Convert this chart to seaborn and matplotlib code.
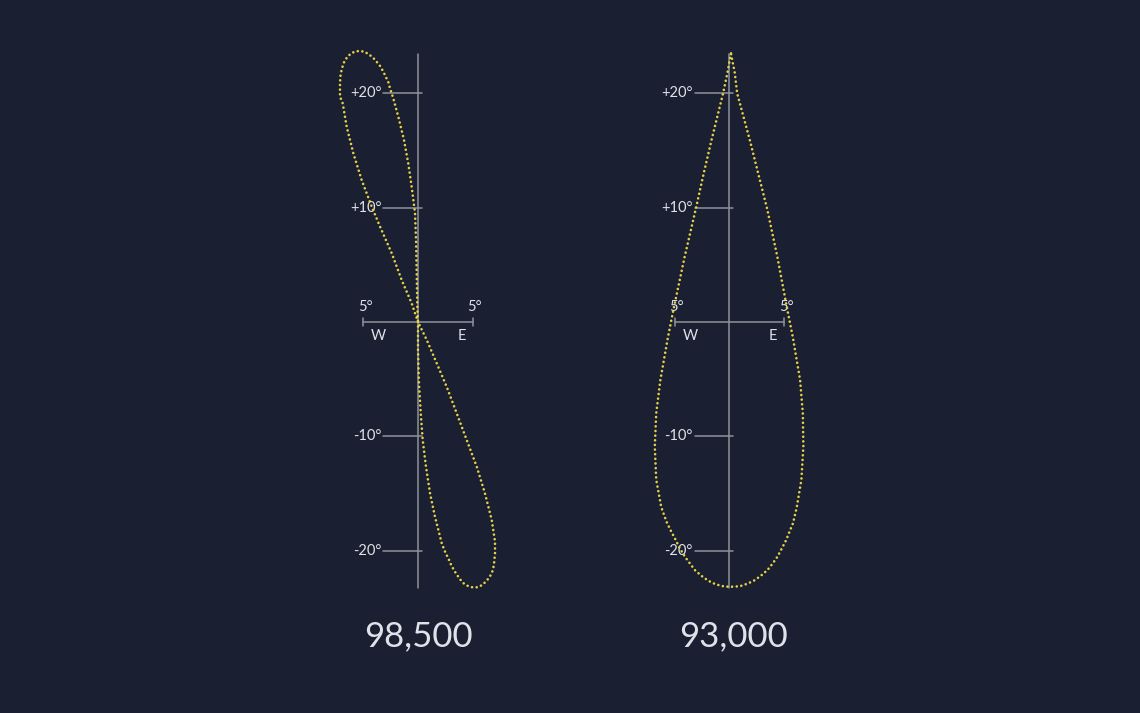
import matplotlib
matplotlib.use("Agg")
import matplotlib.pyplot as plt
import seaborn as sns
import pandas as pd

# analemma points, degrees (x: W-/E+, y: declination)
left_x = [0.0, -0.58, -1.49, -2.40, -3.47, -4.23, -5.15, -5.91, -6.52, -6.88, -7.13, -7.13,
          -7.10, -6.97, -6.76, -6.46, -6.06, -5.69, -5.30, -4.91, -4.54, -4.14, -3.78, -3.47,
          -3.17, -2.95, -2.71, -2.56, -2.26, -1.80, -1.28, -0.89, -0.58, -0.27, -0.18,
          -0.12, -0.06, 0.0,
          0.80, 1.71, 2.62, 3.54, 4.45, 5.37, 6.12, 6.74, 7.04, 7.04, 6.97, 6.88, 6.74, 6.52,
          6.28, 5.88, 5.42, 4.96, 4.51, 4.09, 3.78, 3.47, 3.23, 2.99, 2.77, 2.56, 2.38, 2.17,
          1.55, 1.10, 0.73, 0.43, 0.25, 0.09, 0.0, 0.0]
left_y = [0.0, 1.64, 3.67, 6.01, 8.34, 10.09, 12.42, 14.76, 17.09, 19.13, 19.71, 20.73,
          21.46, 22.13, 22.72, 23.21, 23.53, 23.68, 23.71, 23.65, 23.45, 23.16, 22.77, 22.40,
          21.90, 21.46, 20.97, 20.45, 19.57, 17.96, 15.92, 13.88, 11.84, 9.51, 7.17,
          4.26, 1.34, 0.0,
          -1.57, -3.61, -5.66, -7.99, -10.32, -12.66, -14.99, -17.32, -19.22, -20.24, -20.97,
          -21.55, -21.99, -22.34, -22.63, -23.01, -23.21, -23.21, -23.07, -22.81, -22.42,
          -21.99, -21.61, -21.17, -20.67, -20.29, -19.88, -19.36,
          -17.03, -14.99, -12.66, -10.32, -7.99, -5.36, -2.45, 0.0]

right_x = [0.15, -0.17, -0.57, -1.63, -2.34, -3.07, -4.08, -5.05, -5.60, -6.30, -6.68, -6.81,
           -6.68, -6.22, -5.74, -5.38, -4.98, -4.52, -4.06, -3.61, -3.15, -2.53, -1.93, -1.31,
           -0.70, -0.09, 0.52, 1.14, 1.74, 2.36, 2.97, 3.49, 3.98, 4.40, 4.81, 5.20, 5.50,
           5.82, 6.17, 6.59, 6.77, 6.72, 6.47, 5.80, 5.25, 4.39, 3.47, 2.64, 1.88, 0.72,
           0.50, 0.15]
right_y = [23.5, 21.8, 20.0, 15.9, 13.0, 9.86, 5.71, 1.34, -1.29, -5.07, -7.99, -10.9,
           -13.8, -16.2, -17.47, -18.20, -18.92, -19.80, -20.53, -21.11, -21.70, -22.22,
           -22.63, -22.92, -23.10, -23.16, -23.16, -23.07, -22.86, -22.57, -22.13, -21.70,
           -21.11, -20.53, -19.80, -19.07, -18.35, -17.61, -16.2,
           -13.8, -10.9, -7.99, -5.07, -1.29, 1.34, 5.71, 9.86, 13.0, 15.9, 20.0, 21.8, 23.5]

years = ["98,500", "93,000"]
dec_ticks = [20, 10, -10, -20]
dec_labels = ["+20°", "+10°", "-10°", "-20°"]

bg = "#1a2031"
axis_col = "#8e929c"
text_col = "#dfe2e8"
dot_col = "#e6d24a"

sns.set_style("dark")
plt.rcParams["font.family"] = ["Lato", "DejaVu Sans"]

W, H = 1140, 713
fig = plt.figure(figsize=(W / 100, H / 100), dpi=100, facecolor=bg)

px_x = 10.94  # pixels per degree horizontally
px_y = 11.43  # pixels per degree vertically
xlim = (-10, 10)
ylim = (-29, 27)
centres = [418.0, 729.3]
cy = H - 322.0

curves = [(left_x, left_y), (right_x, right_y)]

for i, (cx, (xs, ys)) in enumerate(zip(centres, curves)):
    left = cx + xlim[0] * px_x
    bottom = cy + ylim[0] * px_y
    w = (xlim[1] - xlim[0]) * px_x
    h = (ylim[1] - ylim[0]) * px_y
    ax = fig.add_axes([left / W, bottom / H, w / W, h / H])
    ax.set_facecolor(bg)
    ax.set_xlim(*xlim)
    ax.set_ylim(*ylim)
    ax.axis("off")

    # vertical axis and declination ticks
    ax.plot([0, 0], [-23.3, 23.45], color=axis_col, lw=1.1, zorder=1)
    for t, lab in zip(dec_ticks, dec_labels):
        ax.plot([-3.17, 0.34], [t, t], color=axis_col, lw=1.1, zorder=1)
        ax.text(-3.35, t, lab, ha="right", va="center", color=text_col, fontsize=10.5)

    # horizontal E/W scale
    ax.plot([-5, 5], [0, 0], color=axis_col, lw=1.1, zorder=1)
    for sx in (-5, 5):
        ax.plot([sx, sx], [-0.35, 0.35], color=axis_col, lw=1.1, zorder=1)
        ax.text(sx + 0.2, 1.3, "5°", ha="center", va="center", color=text_col, fontsize=10.5)
    ax.text(-3.6, -1.2, "W", ha="center", va="center", color=text_col, fontsize=10.5)
    ax.text(4.0, -1.2, "E", ha="center", va="center", color=text_col, fontsize=10.5)

    df = pd.DataFrame({"x": xs, "y": ys})
    sns.lineplot(data=df, x="x", y="y", sort=False, estimator=None, ax=ax,
                 color=dot_col, lw=1.9, dashes=False, zorder=3)
    ax.lines[-1].set_dashes((0.01, 1.75))
    ax.lines[-1].set_dash_capstyle("round")

    ax.text(0.0 if i == 0 else 0.4, -28.4, years[i], ha="center", va="baseline",
            color=text_col, fontsize=25)

fig.savefig("out.png", dpi=100, facecolor=bg)
